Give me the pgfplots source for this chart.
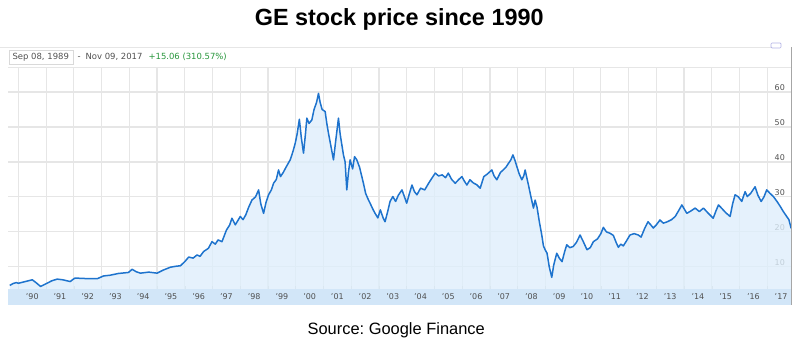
\documentclass[border=0pt]{standalone}
\usepackage{pgfplots}
\usepackage{pgfplotstable}
\pgfplotsset{compat=1.18}
\usepackage{fontspec}
\setmainfont{Liberation Sans}
\newfontfamily\dv{DejaVu Sans}
\frenchspacing
\definecolor{gline}{RGB}{30,115,205}
\definecolor{gfill}{RGB}{222,238,251}
\definecolor{gband}{RGB}{210,230,248}
\definecolor{ggrid}{RGB}{230,230,230}
\definecolor{ggreen}{RGB}{40,150,60}
\definecolor{gtext}{RGB}{80,80,80}

\pgfplotstableread{
yr val
1989.69 4.7
1989.80 5.2
1989.92 5.5
1990.00 5.3
1990.15 5.6
1990.35 6.0
1990.50 6.3
1990.62 5.6
1990.80 4.4
1990.90 4.8
1991.03 5.3
1991.20 6.0
1991.40 6.5
1991.60 6.3
1991.87 5.8
1992.00 6.6
1992.05 6.8
1992.30 6.7
1992.60 6.6
1992.84 6.6
1993.07 7.4
1993.30 7.6
1993.60 8.1
1993.97 8.4
1994.10 9.3
1994.25 8.6
1994.40 8.2
1994.70 8.5
1995.00 8.2
1995.20 9.0
1995.48 9.9
1995.70 10.2
1995.84 10.3
1996.00 11.5
1996.14 12.8
1996.30 12.5
1996.44 13.4
1996.55 13.0
1996.68 14.4
1996.85 15.3
1996.98 17.2
1997.10 16.5
1997.20 17.7
1997.34 17.2
1997.50 20.5
1997.62 22.0
1997.70 23.9
1997.82 22.0
1998.00 24.4
1998.10 23.5
1998.20 24.9
1998.30 27.0
1998.42 29.1
1998.55 30.0
1998.66 32.0
1998.74 28.0
1998.84 25.3
1998.93 28.5
1999.02 30.6
1999.12 32.0
1999.20 33.9
1999.30 35.0
1999.38 37.7
1999.45 35.8
1999.55 37.0
1999.65 38.5
1999.80 40.6
1999.90 43.0
1999.98 45.3
2000.05 48.0
2000.13 52.2
2000.20 47.0
2000.28 42.5
2000.35 48.0
2000.40 52.5
2000.48 51.0
2000.58 52.0
2000.66 55.0
2000.75 57.0
2000.82 59.6
2000.88 57.0
2000.95 55.0
2001.06 54.4
2001.12 51.0
2001.18 48.2
2001.28 44.0
2001.36 40.6
2001.44 46.0
2001.54 52.5
2001.60 48.0
2001.66 45.0
2001.72 42.0
2001.78 40.0
2001.84 32.0
2001.90 37.0
2001.96 40.6
2002.05 38.0
2002.12 41.5
2002.20 40.6
2002.30 38.5
2002.44 33.9
2002.52 31.0
2002.60 29.5
2002.68 28.2
2002.78 26.5
2002.86 25.3
2002.96 24.0
2003.05 26.3
2003.15 24.0
2003.22 22.9
2003.32 26.0
2003.40 28.7
2003.50 30.1
2003.60 28.7
2003.70 30.5
2003.83 32.0
2003.92 30.0
2004.00 28.2
2004.10 31.0
2004.19 33.4
2004.28 31.5
2004.37 30.6
2004.50 32.5
2004.65 32.0
2004.79 33.9
2004.92 35.5
2005.03 36.8
2005.15 36.0
2005.28 36.3
2005.40 35.5
2005.50 36.8
2005.62 35.0
2005.75 33.9
2005.88 35.0
2005.99 35.8
2006.08 34.5
2006.17 33.4
2006.28 34.9
2006.40 34.0
2006.52 33.5
2006.65 32.5
2006.78 35.8
2006.90 36.5
2007.07 37.7
2007.15 36.0
2007.25 34.9
2007.38 37.0
2007.48 37.7
2007.58 38.5
2007.67 39.6
2007.75 40.5
2007.83 42.0
2007.90 40.5
2007.97 38.7
2008.06 36.5
2008.15 34.9
2008.22 36.0
2008.27 37.7
2008.33 35.5
2008.39 33.4
2008.48 30.0
2008.57 26.8
2008.63 29.1
2008.70 27.0
2008.78 23.0
2008.87 19.1
2008.93 16.0
2008.99 14.9
2009.06 13.9
2009.14 10.0
2009.23 7.0
2009.30 10.5
2009.41 13.9
2009.50 12.5
2009.60 11.5
2009.70 14.5
2009.77 16.3
2009.88 15.5
2010.00 15.8
2010.12 17.0
2010.25 19.1
2010.35 17.5
2010.50 14.9
2010.62 15.5
2010.73 17.2
2010.88 18.0
2011.00 19.5
2011.09 21.3
2011.20 20.0
2011.33 19.6
2011.45 19.0
2011.55 17.0
2011.63 15.6
2011.72 16.5
2011.81 16.0
2011.93 17.5
2012.05 19.1
2012.20 19.5
2012.35 19.1
2012.45 18.5
2012.58 21.0
2012.70 22.9
2012.80 22.0
2012.89 21.1
2013.00 22.0
2013.13 23.4
2013.25 22.5
2013.40 22.9
2013.55 23.5
2013.68 24.4
2013.80 26.0
2013.92 27.7
2014.10 25.3
2014.25 26.0
2014.40 26.8
2014.55 25.8
2014.70 26.8
2014.85 25.5
2015.05 23.9
2015.15 26.0
2015.24 27.7
2015.35 26.8
2015.50 25.5
2015.66 24.4
2015.75 28.0
2015.84 30.6
2015.96 30.0
2016.08 28.7
2016.20 31.5
2016.28 30.1
2016.40 31.0
2016.56 32.9
2016.66 30.5
2016.78 28.7
2016.88 30.0
2016.98 32.0
2017.10 31.0
2017.22 30.1
2017.35 28.7
2017.45 27.5
2017.58 25.8
2017.70 24.4
2017.78 23.5
2017.86 21.0
}\gedata

\begin{document}
\begin{tikzpicture}[x=1bp,y=1bp]
\path (0,0) rectangle (800,354);
\node[font=\fontsize{23.5}{26}\selectfont\bfseries] at (399,335) {GE stock price since 1990};
\node[font=\fontsize{16.5}{19}\selectfont] at (396,24) {Source: Google Finance};
\fill[gband] (8,49) rectangle (791,65);
\draw[ggrid, line width=0.8bp] (0,307) -- (772,307);
\draw[ggrid, line width=1bp] (8,286) -- (791,286);
% header
\draw[gray!30, line width=0.6bp] (9,290) rectangle (73,304);
\node[anchor=base west, inner sep=0pt, font=\dv\fontsize{8.5}{10}\selectfont, text=gtext] at (12,294) {Sep 08, 1989};
\node[anchor=base west, inner sep=0pt, font=\dv\fontsize{8.5}{10}\selectfont, text=gtext] at (77,294) {-};
\node[anchor=base west, inner sep=0pt, font=\dv\fontsize{8.5}{10}\selectfont, text=gtext] at (85,294) {Nov 09, 2017};
\node[anchor=base west, inner sep=0pt, font=\dv\fontsize{8.5}{10}\selectfont, text=ggreen] at (148,294) {+15.06 (310.57\%)};
\draw[gray!50!blue!40, line width=0.7bp, rounded corners=1bp] (771,306) rectangle (781,311);
\begin{axis}[
  at={(8bp,65bp)}, anchor=south west, scale only axis,
  width=783bp, height=221bp,
  xmin=1989.64, xmax=2017.856, ymin=3.71, ymax=66.86,
  axis line style={draw=none},
  ytick={10,20,30,40,50,60},
  yticklabel pos=right,
  ytick pos=right,
  y tick label style={anchor=south east, inner sep=0pt, xshift=-6bp, yshift=1bp},
  /pgf/number format/assume math mode=true,
  ymajorgrids,
  xtick={1990.5,1991.5,...,2017.5},
  xticklabels={’90,’91,’92,’93,’94,’95,’96,’97,’98,’99,’00,’01,’02,’03,’04,’05,’06,’07,’08,’09,’10,’11,’12,’13,’14,’15,’16,’17},
  x tick label style={anchor=base, yshift=-11bp, inner sep=0pt},
  xtick pos=bottom,
  minor xtick={1990,1991,...,2017},
  xminorgrids,
  major tick length=0pt,
  minor tick length=3bp,
  tick align=inside,
  minor tick style={gray!45, line width=0.6bp},
  grid style={ggrid, line width=1.2bp},
  minor grid style={ggrid, line width=1.2bp},
  tick label style={font=\dv\fontsize{8}{9}\selectfont, text=gtext},
]
\addplot[draw=none, fill=gfill, fill opacity=0.8] table[x=yr, y=val] {\gedata} \closedcycle;
\addplot[gline, line width=1.5bp, line join=round] table[x=yr, y=val] {\gedata};
\end{axis}
\draw[gray!70, line width=1bp] (791,49) -- (791,307);
\end{tikzpicture}
\end{document}
